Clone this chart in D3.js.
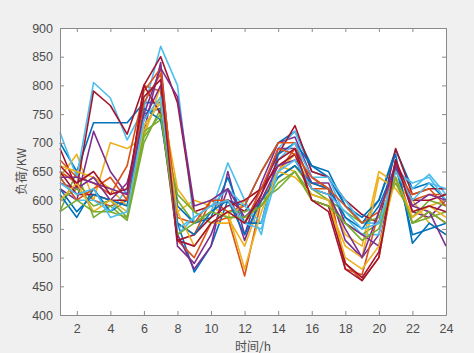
<!DOCTYPE html>
<html>
<meta charset="utf-8">
<style>
  body { margin: 0; background: #f0f0f0; }
  .tick text { font: 12.5px "Liberation Sans", Arial, sans-serif; fill: #4d4d4d; }
  .lbl { font: 12px "Noto Sans CJK SC", sans-serif; fill: #4d4d4d; }
</style>
<script src="https://d3js.org/d3.v7.min.js"></script>
<body>
<script>
var W = 474, H = 353;
var margin = {left: 60, top: 28, right: 28, bottom: 38};

var hours = d3.range(1, 25);
var xTicks = [2, 4, 6, 8, 10, 12, 14, 16, 18, 20, 22, 24];
var yTicks = [400, 450, 500, 550, 600, 650, 700, 750, 800, 850, 900];
var colors = ["#0072BD", "#D95319", "#EDB120", "#7E2F8E", "#77AC30", "#4DBEEE", "#A2142F"];

// daily load curves (kW), one per day
var s1  = [700, 650, 735, 735, 735, 770, 770, 560, 475, 520, 600, 590, 650, 700, 720, 660, 640, 590, 560, 600, 688, 620, 630, 600];
var s2  = [650, 630, 600, 590, 600, 800, 790, 530, 500, 560, 570, 468, 600, 650, 690, 630, 620, 490, 460, 500, 660, 560, 580, 560];
var s3  = [640, 680, 600, 700, 690, 710, 800, 580, 600, 590, 570, 520, 600, 650, 680, 620, 610, 540, 520, 650, 630, 600, 560, 540];
var s4  = [620, 600, 720, 650, 610, 720, 840, 540, 480, 520, 650, 540, 630, 700, 710, 640, 620, 530, 500, 540, 670, 580, 570, 600];
var s5  = [580, 650, 570, 590, 565, 700, 760, 600, 560, 580, 600, 560, 600, 620, 650, 610, 600, 560, 540, 560, 640, 560, 570, 580];
var s6  = [718, 640, 805, 778, 705, 760, 868, 800, 560, 580, 665, 600, 540, 690, 720, 650, 640, 570, 540, 540, 660, 620, 645, 610];
var s7  = [690, 620, 790, 765, 715, 800, 850, 770, 580, 590, 600, 580, 620, 680, 730, 650, 640, 600, 575, 560, 690, 610, 620, 620];
var s8  = [610, 570, 620, 580, 600, 750, 760, 590, 560, 570, 640, 560, 560, 680, 700, 660, 650, 590, 570, 600, 680, 525, 560, 540];
var s9  = [670, 640, 630, 610, 660, 790, 830, 560, 540, 600, 580, 590, 650, 700, 700, 620, 620, 480, 470, 580, 650, 600, 610, 610];
var s10 = [660, 650, 640, 620, 590, 720, 780, 620, 580, 560, 560, 600, 620, 660, 650, 600, 590, 520, 500, 640, 620, 580, 590, 600];
var s11 = [630, 620, 640, 600, 630, 740, 800, 520, 490, 540, 620, 530, 610, 690, 690, 630, 630, 560, 540, 520, 660, 590, 580, 520];
var s12 = [600, 620, 590, 600, 570, 720, 740, 610, 580, 560, 580, 580, 590, 640, 660, 620, 600, 580, 560, 570, 630, 570, 600, 590];
var s13 = [640, 600, 600, 580, 620, 730, 770, 540, 570, 590, 620, 590, 560, 670, 700, 640, 640, 600, 560, 560, 650, 630, 640, 600];
var s14 = [650, 610, 610, 600, 600, 800, 750, 530, 540, 570, 590, 600, 620, 660, 680, 600, 590, 490, 465, 510, 670, 600, 600, 610];
var s15 = [620, 580, 610, 600, 590, 760, 740, 560, 540, 580, 600, 540, 600, 640, 660, 630, 620, 570, 550, 590, 660, 540, 550, 560];
var s16 = [640, 600, 620, 640, 600, 770, 820, 570, 560, 600, 600, 560, 620, 690, 680, 640, 620, 590, 560, 580, 650, 610, 620, 590];
var s17 = [600, 630, 580, 600, 580, 730, 770, 580, 520, 560, 580, 480, 580, 650, 640, 610, 600, 500, 480, 520, 640, 570, 590, 570];
var s18 = [640, 640, 630, 620, 610, 750, 830, 780, 590, 600, 620, 570, 600, 660, 670, 620, 610, 550, 500, 580, 660, 590, 610, 600];
var s19 = [580, 600, 580, 580, 570, 710, 750, 540, 560, 580, 570, 570, 590, 630, 650, 600, 590, 560, 530, 550, 640, 560, 580, 560];
var s20 = [630, 610, 620, 570, 580, 740, 780, 550, 570, 590, 600, 560, 550, 650, 670, 620, 610, 580, 550, 560, 650, 600, 630, 620];
var s21 = [660, 630, 650, 610, 620, 780, 810, 530, 520, 560, 580, 560, 610, 670, 690, 600, 580, 480, 460, 500, 670, 580, 590, 580];
var series = [s1, s2, s3, s4, s5, s6, s7, s8, s9, s10, s11, s12, s13, s14, s15, s16, s17, s18, s19, s20, s21];

var svg = d3.select("body").append("svg")
  .attr("width", W).attr("height", H);

var x = d3.scaleLinear().domain([1, 24]).range([margin.left, W - margin.right]);
var y = d3.scaleLinear().domain([400, 900]).range([H - margin.bottom, margin.top]);

svg.append("rect")
  .attr("x", margin.left).attr("y", margin.top)
  .attr("width", x(24) - x(1)).attr("height", y(400) - y(900))
  .attr("fill", "#fff");

var line = d3.line().x(function(d, i) { return x(hours[i]); }).y(function(d) { return y(d); });

svg.append("g").selectAll("path")
  .data(series)
  .enter().append("path")
  .attr("d", line)
  .attr("fill", "none")
  .attr("stroke", function(d, i) { return colors[i % colors.length]; })
  .attr("stroke-width", 1.6)
  .attr("stroke-linejoin", "round");

// axes, ticks pointing inward on all four sides
function styleAxis(g) {
  g.select(".domain").attr("stroke", "#8a8a8a");
  g.selectAll(".tick line").attr("stroke", "#8a8a8a");
}
svg.append("g").attr("transform", "translate(0," + y(400) + ")")
  .call(d3.axisBottom(x).tickValues(xTicks).tickSizeInner(-4).tickSizeOuter(0).tickPadding(9))
  .call(styleAxis);
svg.append("g").attr("transform", "translate(0," + y(900) + ")")
  .call(d3.axisTop(x).tickValues(xTicks).tickSizeInner(-4).tickSizeOuter(0).tickFormat(""))
  .call(styleAxis);
svg.append("g").attr("transform", "translate(" + x(1) + ",0)")
  .call(d3.axisLeft(y).tickValues(yTicks).tickSizeInner(-4).tickSizeOuter(0).tickPadding(7))
  .call(styleAxis);
svg.append("g").attr("transform", "translate(" + x(24) + ",0)")
  .call(d3.axisRight(y).tickValues(yTicks).tickSizeInner(-4).tickSizeOuter(0).tickFormat(""))
  .call(styleAxis);
svg.selectAll(".tick text").attr("font-family", null).attr("font-size", null);

svg.append("text").attr("class", "lbl")
  .attr("x", (x(1) + x(24)) / 2).attr("y", 351)
  .attr("text-anchor", "middle").text("时间/h");
svg.append("text").attr("class", "lbl")
  .attr("transform", "translate(26," + (y(400) + y(900)) / 2 + ") rotate(-90)")
  .attr("text-anchor", "middle").text("负荷/KW");
</script>
</body>
</html>
